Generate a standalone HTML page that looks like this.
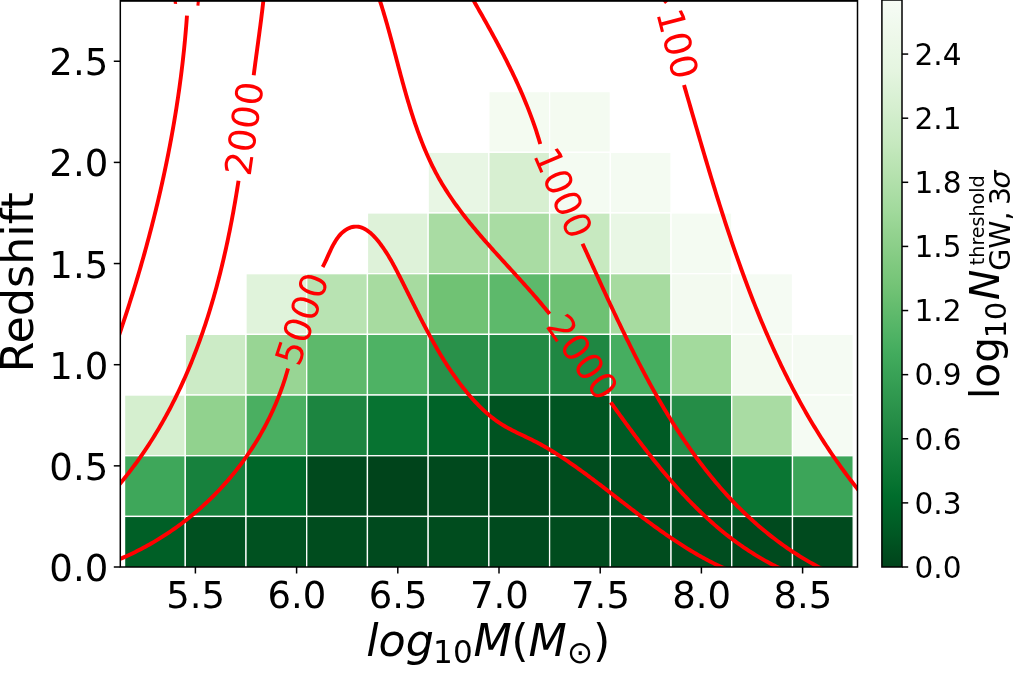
<!DOCTYPE html><html><head><meta charset="utf-8"><style>html,body{margin:0;padding:0;background:#fff;}svg{display:block;}text{font-family:"DejaVu Sans","Liberation Sans",sans-serif;}</style></head><body>
<svg width="1020" height="677" viewBox="0 0 1020 677">
<defs><clipPath id="ax"><rect x="120.3" y="0.0" width="737.2" height="567.0"/></clipPath>
<linearGradient id="cb" x1="0" y1="1" x2="0" y2="0"><stop offset="0.000" stop-color="#00441b"/><stop offset="0.031" stop-color="#004e1f"/><stop offset="0.062" stop-color="#005924"/><stop offset="0.094" stop-color="#006328"/><stop offset="0.125" stop-color="#006d2c"/><stop offset="0.156" stop-color="#097532"/><stop offset="0.188" stop-color="#127c39"/><stop offset="0.219" stop-color="#1a843f"/><stop offset="0.250" stop-color="#238b45"/><stop offset="0.281" stop-color="#2b934b"/><stop offset="0.312" stop-color="#329b51"/><stop offset="0.344" stop-color="#3aa357"/><stop offset="0.375" stop-color="#42ab5d"/><stop offset="0.406" stop-color="#4eb264"/><stop offset="0.438" stop-color="#5bb86a"/><stop offset="0.469" stop-color="#68be70"/><stop offset="0.500" stop-color="#75c477"/><stop offset="0.531" stop-color="#7fc97f"/><stop offset="0.562" stop-color="#8ace88"/><stop offset="0.594" stop-color="#95d391"/><stop offset="0.625" stop-color="#a0d99b"/><stop offset="0.656" stop-color="#aadda4"/><stop offset="0.688" stop-color="#b4e1ad"/><stop offset="0.719" stop-color="#bde5b6"/><stop offset="0.750" stop-color="#c7e9c0"/><stop offset="0.781" stop-color="#ceecc8"/><stop offset="0.812" stop-color="#d6efd0"/><stop offset="0.844" stop-color="#ddf2d8"/><stop offset="0.875" stop-color="#e5f5e0"/><stop offset="0.906" stop-color="#e9f7e5"/><stop offset="0.938" stop-color="#eef8ea"/><stop offset="0.969" stop-color="#f2faf0"/><stop offset="1.000" stop-color="#f7fcf5"/></linearGradient></defs>
<rect width="1020" height="677" fill="#fff"/>
<g clip-path="url(#ax)" stroke="#fff" stroke-width="1.3">
<rect x="488.88" y="91.59" width="60.72" height="60.69" fill="#f4fbf1"/>
<rect x="549.60" y="91.59" width="60.72" height="60.69" fill="#f4fbf1"/>
<rect x="428.16" y="152.29" width="60.72" height="60.69" fill="#e8f6e4"/>
<rect x="488.88" y="152.29" width="60.72" height="60.69" fill="#d7efd1"/>
<rect x="549.60" y="152.29" width="60.72" height="60.69" fill="#f4fbf2"/>
<rect x="610.32" y="152.29" width="60.72" height="60.69" fill="#f4fbf2"/>
<rect x="367.44" y="212.97" width="60.72" height="60.69" fill="#def2d9"/>
<rect x="428.16" y="212.97" width="60.72" height="60.69" fill="#a9dca3"/>
<rect x="488.88" y="212.97" width="60.72" height="60.69" fill="#a9dca3"/>
<rect x="549.60" y="212.97" width="60.72" height="60.69" fill="#c7e9c0"/>
<rect x="610.32" y="212.97" width="60.72" height="60.69" fill="#e9f7e5"/>
<rect x="671.04" y="212.97" width="60.72" height="60.69" fill="#f4fbf2"/>
<rect x="246.00" y="273.67" width="60.72" height="60.69" fill="#e0f3db"/>
<rect x="306.72" y="273.67" width="60.72" height="60.69" fill="#b8e3b2"/>
<rect x="367.44" y="273.67" width="60.72" height="60.69" fill="#a7dba0"/>
<rect x="428.16" y="273.67" width="60.72" height="60.69" fill="#70c274"/>
<rect x="488.88" y="273.67" width="60.72" height="60.69" fill="#5db96b"/>
<rect x="549.60" y="273.67" width="60.72" height="60.69" fill="#6ec173"/>
<rect x="610.32" y="273.67" width="60.72" height="60.69" fill="#a7dba0"/>
<rect x="671.04" y="273.67" width="60.72" height="60.69" fill="#f3faf0"/>
<rect x="731.76" y="273.67" width="60.72" height="60.69" fill="#f5fbf3"/>
<rect x="185.28" y="334.36" width="60.72" height="60.69" fill="#ccebc6"/>
<rect x="246.00" y="334.36" width="60.72" height="60.69" fill="#98d594"/>
<rect x="306.72" y="334.36" width="60.72" height="60.69" fill="#5db96b"/>
<rect x="367.44" y="334.36" width="60.72" height="60.69" fill="#4eb264"/>
<rect x="428.16" y="334.36" width="60.72" height="60.69" fill="#29914a"/>
<rect x="488.88" y="334.36" width="60.72" height="60.69" fill="#228a44"/>
<rect x="549.60" y="334.36" width="60.72" height="60.69" fill="#1f8742"/>
<rect x="610.32" y="334.36" width="60.72" height="60.69" fill="#46ae60"/>
<rect x="671.04" y="334.36" width="60.72" height="60.69" fill="#a3da9d"/>
<rect x="731.76" y="334.36" width="60.72" height="60.69" fill="#f3faf0"/>
<rect x="792.48" y="334.36" width="60.72" height="60.69" fill="#f5fbf3"/>
<rect x="124.56" y="395.04" width="60.72" height="60.69" fill="#d5efcf"/>
<rect x="185.28" y="395.04" width="60.72" height="60.69" fill="#91d28e"/>
<rect x="246.00" y="395.04" width="60.72" height="60.69" fill="#4aaf61"/>
<rect x="306.72" y="395.04" width="60.72" height="60.69" fill="#1c8540"/>
<rect x="367.44" y="395.04" width="60.72" height="60.69" fill="#077331"/>
<rect x="428.16" y="395.04" width="60.72" height="60.69" fill="#006328"/>
<rect x="488.88" y="395.04" width="60.72" height="60.69" fill="#005321"/>
<rect x="549.60" y="395.04" width="60.72" height="60.69" fill="#005522"/>
<rect x="610.32" y="395.04" width="60.72" height="60.69" fill="#005b25"/>
<rect x="671.04" y="395.04" width="60.72" height="60.69" fill="#258d47"/>
<rect x="731.76" y="395.04" width="60.72" height="60.69" fill="#a9dca3"/>
<rect x="792.48" y="395.04" width="60.72" height="60.69" fill="#f5fbf3"/>
<rect x="124.56" y="455.74" width="60.72" height="60.69" fill="#3ea75a"/>
<rect x="185.28" y="455.74" width="60.72" height="60.69" fill="#17813d"/>
<rect x="246.00" y="455.74" width="60.72" height="60.69" fill="#006729"/>
<rect x="306.72" y="455.74" width="60.72" height="60.69" fill="#00491d"/>
<rect x="367.44" y="455.74" width="60.72" height="60.69" fill="#00441b"/>
<rect x="428.16" y="455.74" width="60.72" height="60.69" fill="#00491d"/>
<rect x="488.88" y="455.74" width="60.72" height="60.69" fill="#00471c"/>
<rect x="549.60" y="455.74" width="60.72" height="60.69" fill="#004c1e"/>
<rect x="610.32" y="455.74" width="60.72" height="60.69" fill="#005020"/>
<rect x="671.04" y="455.74" width="60.72" height="60.69" fill="#005020"/>
<rect x="731.76" y="455.74" width="60.72" height="60.69" fill="#0a7633"/>
<rect x="792.48" y="455.74" width="60.72" height="60.69" fill="#3ca559"/>
<rect x="124.56" y="516.42" width="60.72" height="60.69" fill="#005f26"/>
<rect x="185.28" y="516.42" width="60.72" height="60.69" fill="#005020"/>
<rect x="246.00" y="516.42" width="60.72" height="60.69" fill="#005120"/>
<rect x="306.72" y="516.42" width="60.72" height="60.69" fill="#004c1e"/>
<rect x="367.44" y="516.42" width="60.72" height="60.69" fill="#004a1e"/>
<rect x="428.16" y="516.42" width="60.72" height="60.69" fill="#004c1e"/>
<rect x="488.88" y="516.42" width="60.72" height="60.69" fill="#004a1e"/>
<rect x="549.60" y="516.42" width="60.72" height="60.69" fill="#004c1e"/>
<rect x="610.32" y="516.42" width="60.72" height="60.69" fill="#004c1e"/>
<rect x="671.04" y="516.42" width="60.72" height="60.69" fill="#004d1f"/>
<rect x="731.76" y="516.42" width="60.72" height="60.69" fill="#004a1e"/>
<rect x="792.48" y="516.42" width="60.72" height="60.69" fill="#004a1e"/>
</g>
<g clip-path="url(#ax)" fill="none" stroke="#ff0000" stroke-width="3.9" stroke-linecap="butt">
<path d="M109.71,361.91 L110.88,358.66 L112.04,355.41 L113.19,352.15 L114.33,348.89 L115.47,345.63 L116.60,342.36 L117.73,339.10 L118.84,335.83 L119.96,332.56 L121.06,329.28 L122.16,326.00 L123.25,322.73 L124.33,319.45 L125.41,316.16 L126.48,312.88 L127.54,309.59 L128.59,306.30 L129.64,303.01 L130.68,299.71 L131.72,296.41 L132.74,293.11 L133.76,289.81 L134.77,286.51 L135.78,283.20 L136.77,279.89 L137.76,276.58 L138.74,273.27 L139.71,269.96 L140.68,266.64 L141.63,263.32 L142.58,260.00 L143.52,256.67 L144.46,253.35 L145.38,250.02 L146.30,246.69 L147.21,243.36 L148.11,240.02 L149.00,236.69 L149.89,233.35 L150.76,230.01 L151.63,226.66 L152.49,223.32 L153.34,219.97 L154.18,216.62 L155.02,213.27 L155.84,209.92 L156.66,206.56 L157.47,203.21 L158.26,199.85 L159.05,196.49 L159.84,193.12 L160.61,189.76 L161.37,186.39 L162.12,183.02 L162.87,179.65 L163.61,176.28 L164.33,172.90 L165.05,169.53 L165.76,166.15 L166.46,162.77 L167.15,159.39 L167.83,156.00 L168.50,152.61 L169.16,149.23 L169.81,145.84 L170.45,142.44 L171.08,139.05 L171.71,135.66 L172.32,132.26 L172.92,128.86 L173.51,125.46 L174.10,122.05 L174.67,118.65 L175.23,115.24 L175.79,111.84 L176.33,108.43 L176.86,105.01 L177.38,101.60 L177.90,98.19 L178.40,94.77 L178.89,91.35 L179.37,87.93 L179.84,84.51 L180.30,81.08 L180.75,77.66 L181.19,74.23 L181.62,70.80 L182.03,67.37 L182.44,63.94 L182.84,60.51 L183.22,57.07 L183.59,53.63 L183.96,50.20 L184.31,46.76 L184.65,43.31 L184.98,39.87 L185.30,36.43 L185.60,32.98 L185.90,29.53 L186.19,26.08 L186.46,22.63 L186.72,19.18 L186.97,15.72"/>
<path d="M108.90,496.38 L110.76,494.33 L112.60,492.27 L114.42,490.19 L116.23,488.11 L118.02,486.01 L119.80,483.91 L121.55,481.79 L123.30,479.67 L125.02,477.53 L126.73,475.39 L128.42,473.23 L130.10,471.07 L131.76,468.89 L133.40,466.70 L135.03,464.51 L136.65,462.31 L138.24,460.09 L139.83,457.87 L141.39,455.64 L142.94,453.40 L144.48,451.15 L146.00,448.89 L147.50,446.62 L148.99,444.34 L150.47,442.06 L151.93,439.76 L153.37,437.46 L154.80,435.15 L156.22,432.83 L157.62,430.50 L159.01,428.17 L160.38,425.82 L161.74,423.47 L163.08,421.11 L164.41,418.75 L165.73,416.37 L167.03,413.99 L168.32,411.60 L169.60,409.21 L170.86,406.80 L172.11,404.39 L173.34,401.97 L174.56,399.55 L175.77,397.12 L176.96,394.68 L178.14,392.23 L179.31,389.78 L180.47,387.32 L181.61,384.86 L182.74,382.39 L183.86,379.91 L184.96,377.42 L186.05,374.94 L187.13,372.44 L188.20,369.94 L189.26,367.43 L190.30,364.92 L191.33,362.40 L192.35,359.88 L193.36,357.35 L194.35,354.82 L195.34,352.28 L196.31,349.73 L197.27,347.18 L198.22,344.63 L199.16,342.07 L200.08,339.51 L201.00,336.94 L201.90,334.37 L202.80,331.79 L203.68,329.21 L204.55,326.62 L205.41,324.03 L206.27,321.44 L207.11,318.84 L207.94,316.24 L208.76,313.63 L209.57,311.02 L210.36,308.41 L211.15,305.80 L211.93,303.18 L212.70,300.55 L213.46,297.93 L214.21,295.30 L214.95,292.67 L215.68,290.03 L216.40,287.39 L217.11,284.75 L217.82,282.11 L218.51,279.47 L219.20,276.82 L219.87,274.17 L220.54,271.52 L221.19,268.86 L221.84,266.20 L222.48,263.55 L223.12,260.88 L223.74,258.22 L224.35,255.56 L224.96,252.89 L225.56,250.23 L226.15,247.56 L226.73,244.89 L227.31,242.22 L227.87,239.55 L228.43,236.87 L228.98,234.20 L229.53,231.52 L230.06,228.85 L230.59,226.17 L231.11,223.50 L231.63,220.82 L232.13,218.14 L232.63,215.46 L233.13,212.79 L233.61,210.11 L234.09,207.43 L234.56,204.75 L235.03,202.08 L235.49,199.40 L235.94,196.72 L236.39,194.04 L236.83,191.37 L237.27,188.69 L237.69,186.02 L238.12,183.35 L238.53,180.67"/>
<path d="M253.70,75.20 L253.98,73.02 L254.26,70.83 L254.55,68.65 L254.84,66.47 L255.13,64.28 L255.42,62.10 L255.71,59.92 L256.01,57.74 L256.30,55.55 L256.60,53.37 L256.89,51.19 L257.19,49.01 L257.49,46.82 L257.78,44.64 L258.08,42.46 L258.37,40.28 L258.67,38.09 L258.96,35.91 L259.25,33.73 L259.54,31.55 L259.83,29.36 L260.12,27.18 L260.41,24.99 L260.69,22.81 L260.97,20.63 L261.25,18.44 L261.52,16.26 L261.79,14.07 L262.06,11.89 L262.32,9.70 L262.58,7.51 L262.84,5.33 L263.09,3.14 L263.34,0.95 L263.58,-1.24 L263.82,-3.43 L264.05,-5.62 L264.28,-7.81 L264.50,-10.00"/>
<path d="M104.44,565.10 L106.68,564.28 L108.90,563.45 L111.12,562.60 L113.33,561.73 L115.54,560.85 L117.73,559.95 L119.91,559.03 L122.09,558.10 L124.26,557.14 L126.42,556.17 L128.56,555.19 L130.71,554.19 L132.84,553.17 L134.96,552.13 L137.07,551.08 L139.17,550.01 L141.27,548.93 L143.35,547.82 L145.42,546.71 L147.49,545.57 L149.54,544.43 L151.58,543.26 L153.62,542.08 L155.64,540.88 L157.65,539.67 L159.66,538.44 L161.65,537.20 L163.63,535.94 L165.60,534.67 L167.56,533.38 L169.51,532.08 L171.45,530.76 L173.38,529.43 L175.30,528.08 L177.20,526.71 L179.10,525.34 L180.98,523.94 L182.85,522.54 L184.71,521.12 L186.56,519.68 L188.39,518.23 L190.22,516.77 L192.03,515.29 L193.83,513.80 L195.62,512.29 L197.40,510.77 L199.16,509.24 L200.91,507.69 L202.65,506.13 L204.38,504.56 L206.09,502.97 L207.79,501.37 L209.48,499.76 L211.16,498.13 L212.82,496.49 L214.47,494.84 L216.11,493.17 L217.73,491.49 L219.34,489.80 L220.93,488.10 L222.52,486.38 L224.09,484.66 L225.64,482.92 L227.18,481.16 L228.71,479.40 L230.22,477.62 L231.72,475.83 L233.21,474.03 L234.68,472.22 L236.14,470.39 L237.58,468.56 L239.01,466.71 L240.42,464.85 L241.82,462.98 L243.20,461.10 L244.57,459.20 L245.92,457.30 L247.26,455.39 L248.59,453.46 L249.89,451.52 L251.19,449.57 L252.46,447.62 L253.73,445.65 L254.97,443.67 L256.20,441.68 L257.42,439.68 L258.62,437.67 L259.80,435.65 L260.97,433.61 L262.12,431.57 L263.25,429.52 L264.37,427.46 L265.47,425.39 L266.56,423.31 L267.62,421.22 L268.68,419.12 L269.71,417.01 L270.73,414.90 L271.73,412.77 L272.71,410.63 L273.68,408.49 L274.63,406.33 L275.56,404.17 L276.48,402.00 L277.38,399.82 L278.25,397.63 L279.12,395.43 L279.96,393.22 L280.79,391.01 L281.60,388.79 L282.39,386.55 L283.16,384.31 L283.91,382.07 L284.65,379.81 L285.37,377.55 L286.06,375.28 L286.74,373.00 L287.41,370.71 L288.05,368.42"/>
<path d="M322.64,266.93 L323.38,265.62 L324.11,264.23 L324.84,262.75 L325.58,261.19 L326.32,259.57 L327.08,257.89 L327.85,256.17 L328.64,254.41 L329.45,252.63 L330.28,250.83 L331.14,249.03 L332.03,247.23 L332.95,245.44 L333.91,243.68 L334.91,241.96 L335.95,240.28 L337.04,238.66 L338.17,237.09 L339.36,235.61 L340.61,234.21 L341.91,232.90 L343.28,231.70 L344.70,230.61 L346.16,229.63 L347.67,228.78 L349.20,228.06 L350.76,227.47 L352.34,227.02 L353.92,226.73 L355.51,226.58 L357.09,226.60 L358.65,226.78 L360.21,227.12 L361.75,227.61 L363.27,228.23 L364.77,228.98 L366.25,229.86 L367.71,230.84 L369.15,231.93 L370.57,233.10 L371.96,234.36 L373.33,235.69 L374.67,237.09 L375.99,238.54 L377.27,240.04 L378.53,241.58 L379.75,243.14 L380.94,244.72 L382.10,246.30 L383.22,247.89 L384.31,249.48 L385.37,251.06 L386.40,252.65 L387.40,254.23 L388.38,255.81 L389.33,257.39 L390.26,258.98 L391.17,260.56 L392.06,262.15 L392.94,263.73 L393.81,265.32 L394.66,266.91 L395.50,268.50 L396.34,270.09 L397.17,271.68 L397.99,273.28 L398.82,274.88 L399.64,276.49 L400.46,278.10 L401.28,279.71 L402.09,281.32 L402.91,282.93 L403.72,284.55 L404.53,286.17 L405.34,287.79 L406.16,289.41 L406.97,291.03 L407.78,292.66 L408.59,294.29 L409.40,295.92 L410.21,297.54 L411.02,299.17 L411.83,300.81 L412.65,302.44 L413.46,304.07 L414.28,305.70 L415.09,307.34 L415.91,308.97 L416.73,310.60 L417.56,312.23 L418.38,313.87 L419.21,315.50 L420.04,317.13 L420.87,318.76 L421.70,320.39 L422.54,322.02 L423.38,323.65 L424.23,325.27 L425.08,326.90 L425.93,328.52 L426.78,330.14 L427.64,331.76 L428.51,333.38 L429.38,334.99 L430.25,336.61 L431.13,338.22 L432.01,339.82 L432.90,341.43 L433.80,343.03 L434.70,344.63 L435.60,346.23 L436.51,347.82 L437.43,349.41 L438.36,351.00 L439.29,352.58 L440.23,354.16 L441.17,355.73 L442.12,357.30 L443.08,358.86 L444.05,360.43 L445.02,361.98 L446.00,363.53 L446.99,365.08 L447.99,366.62 L448.99,368.15 L450.01,369.68 L451.03,371.20 L452.06,372.72 L453.10,374.23 L454.15,375.73 L455.21,377.22 L456.28,378.71 L457.36,380.19 L458.44,381.66 L459.54,383.13 L460.65,384.58 L461.76,386.03 L462.89,387.47 L464.03,388.90 L465.18,390.32 L466.34,391.73 L467.51,393.13 L468.69,394.52 L469.88,395.91 L471.09,397.28 L472.30,398.64 L473.53,399.99 L474.77,401.33 L476.02,402.66 L477.29,403.97 L478.56,405.28 L479.85,406.57 L481.16,407.85 L482.47,409.12 L483.80,410.38 L485.15,411.61 L486.50,412.83 L487.88,414.04 L489.26,415.22 L490.67,416.39 L492.09,417.53 L493.52,418.65 L494.98,419.75 L496.45,420.82 L497.94,421.86 L499.44,422.88 L500.97,423.87 L502.51,424.84 L504.07,425.78 L505.65,426.70 L507.23,427.59 L508.83,428.47 L510.45,429.33 L512.07,430.18 L513.70,431.01 L515.34,431.83 L516.99,432.64 L518.64,433.45 L520.30,434.25 L521.96,435.04 L523.62,435.83 L525.28,436.62 L526.94,437.42 L528.60,438.22 L530.26,439.02 L531.91,439.83 L533.56,440.65 L535.20,441.48 L536.83,442.33 L538.45,443.19 L540.07,444.06 L541.68,444.95 L543.28,445.85 L544.87,446.76 L546.45,447.68 L548.03,448.61 L549.60,449.55 L551.17,450.51 L552.73,451.47 L554.28,452.44 L555.83,453.42 L557.37,454.40 L558.91,455.40 L560.44,456.40 L561.97,457.40 L563.50,458.41 L565.02,459.43 L566.53,460.45 L568.04,461.48 L569.55,462.52 L571.06,463.55 L572.56,464.60 L574.06,465.65 L575.55,466.70 L577.04,467.76 L578.53,468.82 L580.01,469.89 L581.49,470.96 L582.97,472.03 L584.45,473.11 L585.92,474.19 L587.39,475.27 L588.86,476.36 L590.33,477.45 L591.79,478.55 L593.26,479.65 L594.72,480.75 L596.18,481.85 L597.63,482.95 L599.09,484.06 L600.54,485.17 L602.00,486.28 L603.45,487.39 L604.90,488.51 L606.35,489.62 L607.80,490.74 L609.25,491.86 L610.70,492.98 L612.15,494.10 L613.60,495.22 L615.04,496.34 L616.49,497.47 L617.94,498.59 L619.39,499.71 L620.84,500.84 L622.29,501.96 L623.74,503.08 L625.19,504.20 L626.64,505.32 L628.09,506.44 L629.54,507.56 L631.00,508.68 L632.45,509.80 L633.91,510.91 L635.37,512.03 L636.82,513.14 L638.28,514.25 L639.74,515.36 L641.21,516.47 L642.67,517.57 L644.14,518.67 L645.61,519.77 L647.08,520.87 L648.55,521.96 L650.02,523.05 L651.50,524.14 L652.98,525.22 L654.46,526.30 L655.94,527.38 L657.43,528.45 L658.91,529.52 L660.40,530.58 L661.90,531.64 L663.40,532.69 L664.89,533.74 L666.40,534.79 L667.90,535.83 L669.41,536.86 L670.92,537.89 L672.44,538.92 L673.96,539.94 L675.48,540.95 L677.01,541.96 L678.54,542.96 L680.07,543.95 L681.61,544.94 L683.15,545.92 L684.69,546.90 L686.24,547.87 L687.80,548.83 L689.35,549.78 L690.92,550.73 L692.48,551.67 L694.05,552.60 L695.63,553.52 L697.21,554.44 L698.80,555.35 L700.39,556.25 L701.98,557.14 L703.58,558.02 L705.19,558.89 L706.80,559.76 L708.41,560.61 L710.04,561.46 L711.66,562.30 L713.30,563.12 L714.93,563.94 L716.58,564.75 L718.23,565.55 L719.88,566.34 L721.55,567.11 L723.21,567.88 L724.89,568.64 L726.57,569.38 L728.26,570.12 L729.95,570.84 L731.65,571.56 L733.36,572.26 L735.07,572.95"/>
<path d="M377.19,-7.53 L377.96,-5.27 L378.72,-3.01 L379.47,-0.73 L380.21,1.56 L380.94,3.85 L381.67,6.16 L382.38,8.47 L383.09,10.78 L383.79,13.11 L384.48,15.44 L385.17,17.78 L385.85,20.13 L386.53,22.48 L387.20,24.83 L387.86,27.20 L388.52,29.56 L389.18,31.94 L389.83,34.31 L390.48,36.70 L391.12,39.08 L391.77,41.47 L392.41,43.86 L393.05,46.26 L393.68,48.66 L394.32,51.06 L394.96,53.47 L395.59,55.87 L396.23,58.28 L396.87,60.69 L397.50,63.11 L398.14,65.52 L398.78,67.93 L399.43,70.35 L400.07,72.76 L400.72,75.17 L401.37,77.59 L402.03,80.00 L402.69,82.41 L403.35,84.82 L404.02,87.23 L404.69,89.64 L405.37,92.05 L406.06,94.45 L406.75,96.85 L407.45,99.25 L408.16,101.64 L408.88,104.04 L409.60,106.42 L410.33,108.81 L411.07,111.19 L411.82,113.56 L412.58,115.93 L413.35,118.30 L414.13,120.66 L414.92,123.01 L415.73,125.36 L416.54,127.70 L417.37,130.04 L418.21,132.36 L419.06,134.69 L419.92,137.00 L420.80,139.31 L421.70,141.60 L422.60,143.89 L423.53,146.18 L424.46,148.45 L425.42,150.71 L426.39,152.97 L427.37,155.21 L428.38,157.45 L429.40,159.67 L430.43,161.89 L431.49,164.09 L432.56,166.29 L433.66,168.47 L434.77,170.64 L435.90,172.80 L437.06,174.94 L438.23,177.08 L439.42,179.20 L440.64,181.31 L441.87,183.40 L443.12,185.49 L444.40,187.56 L445.69,189.62 L447.00,191.67 L448.33,193.71 L449.67,195.74 L451.03,197.76 L452.41,199.77 L453.81,201.77 L455.22,203.76 L456.64,205.74 L458.08,207.71 L459.54,209.67 L461.01,211.62 L462.49,213.57 L463.98,215.51 L465.49,217.44 L467.01,219.36 L468.54,221.27 L470.08,223.18 L471.63,225.09 L473.19,226.98 L474.76,228.87 L476.34,230.76 L477.93,232.63 L479.53,234.51 L481.13,236.38 L482.75,238.24 L484.37,240.10 L485.99,241.96 L487.63,243.81 L489.26,245.65 L490.91,247.50 L492.56,249.34 L494.21,251.18 L495.86,253.02 L497.52,254.85 L499.18,256.68 L500.85,258.51 L502.52,260.34 L504.18,262.17 L505.85,263.99 L507.52,265.82 L509.19,267.65 L510.86,269.47 L512.53,271.30 L514.20,273.12 L515.87,274.95 L517.53,276.78 L519.19,278.61 L520.85,280.44 L522.51,282.27 L524.16,284.10 L525.80,285.94 L527.45,287.78 L529.08,289.62 L530.71,291.47 L532.34,293.32 L533.96,295.17 L535.57,297.03 L537.17,298.89 L538.77,300.75 L540.36,302.62 L541.93,304.50 L543.50,306.38 L545.06,308.26 L546.61,310.15 L548.15,312.05 L549.68,313.95"/>
<path d="M610.69,402.27 L611.83,403.86 L612.98,405.46 L614.12,407.06 L615.27,408.66 L616.42,410.26 L617.57,411.86 L618.73,413.46 L619.88,415.06 L621.04,416.66 L622.20,418.26 L623.36,419.86 L624.52,421.46 L625.69,423.05 L626.86,424.65 L628.03,426.25 L629.20,427.84 L630.38,429.44 L631.56,431.03 L632.74,432.63 L633.92,434.22 L635.11,435.81 L636.30,437.40 L637.49,438.98 L638.69,440.57 L639.89,442.15 L641.09,443.74 L642.29,445.31 L643.50,446.89 L644.71,448.47 L645.93,450.04 L647.15,451.61 L648.37,453.18 L649.60,454.74 L650.83,456.30 L652.06,457.86 L653.30,459.42 L654.54,460.97 L655.79,462.52 L657.04,464.06 L658.29,465.60 L659.55,467.14 L660.81,468.68 L662.07,470.21 L663.35,471.73 L664.62,473.26 L665.90,474.77 L667.18,476.29 L668.47,477.80 L669.77,479.30 L671.07,480.80 L672.37,482.30 L673.68,483.79 L674.99,485.27 L676.31,486.75 L677.63,488.22 L678.96,489.69 L680.30,491.16 L681.63,492.62 L682.98,494.07 L684.33,495.51 L685.68,496.95 L687.05,498.39 L688.41,499.82 L689.79,501.24 L691.16,502.65 L692.55,504.06 L693.94,505.47 L695.33,506.86 L696.74,508.25 L698.15,509.63 L699.56,511.01 L700.98,512.37 L702.41,513.73 L703.84,515.09 L705.28,516.43 L706.73,517.77 L708.18,519.10 L709.64,520.42 L711.11,521.74 L712.58,523.04 L714.06,524.34 L715.55,525.63 L717.05,526.91 L718.55,528.18 L720.06,529.44 L721.57,530.70 L723.10,531.95 L724.63,533.18 L726.16,534.41 L727.71,535.63 L729.26,536.84 L730.82,538.04 L732.39,539.23 L733.97,540.41 L735.55,541.58 L737.14,542.74 L738.74,543.89 L740.35,545.03 L741.97,546.16 L743.59,547.28 L745.22,548.39 L746.87,549.49 L748.51,550.57 L750.17,551.65 L751.84,552.72 L753.51,553.77 L755.20,554.82 L756.89,555.85 L758.59,556.87 L760.30,557.88 L762.02,558.88 L763.74,559.86 L765.48,560.84 L767.23,561.80 L768.98,562.75 L770.74,563.69 L772.52,564.61 L774.30,565.53 L776.09,566.43 L777.89,567.32 L779.71,568.19 L781.53,569.05 L783.36,569.90 L785.20,570.74 L787.05,571.56 L788.91,572.37 L790.78,573.17"/>
<path d="M468.71,-7.83 L470.04,-5.53 L471.37,-3.22 L472.70,-0.91 L474.03,1.40 L475.36,3.72 L476.68,6.03 L478.01,8.35 L479.33,10.67 L480.65,12.99 L481.97,15.31 L483.28,17.63 L484.59,19.96 L485.90,22.29 L487.20,24.62 L488.50,26.96 L489.80,29.30 L491.09,31.64 L492.37,33.98 L493.65,36.33 L494.93,38.68 L496.20,41.03 L497.46,43.39 L498.72,45.75 L499.97,48.11 L501.21,50.48 L502.44,52.85 L503.67,55.22 L504.89,57.60 L506.10,59.98 L507.31,62.37 L508.50,64.76 L509.68,67.16 L510.86,69.55 L512.03,71.96 L513.18,74.37 L514.33,76.78 L515.46,79.20 L516.59,81.62 L517.70,84.05 L518.80,86.48 L519.89,88.92 L520.97,91.36 L522.03,93.81 L523.09,96.26 L524.12,98.72 L525.15,101.18 L526.16,103.65 L527.16,106.13 L528.15,108.61 L529.12,111.10 L530.07,113.59 L531.01,116.09 L531.94,118.60 L532.85,121.11 L533.74,123.63 L534.62,126.15 L535.48,128.69 L536.32,131.23 L537.15,133.77 L537.95,136.32 L538.75,138.88 L539.52,141.45 L540.27,144.02"/>
<path d="M582.54,243.74 L583.52,245.87 L584.49,248.01 L585.47,250.14 L586.45,252.29 L587.43,254.43 L588.41,256.58 L589.39,258.73 L590.37,260.88 L591.35,263.04 L592.34,265.20 L593.32,267.37 L594.31,269.53 L595.30,271.70 L596.29,273.87 L597.28,276.04 L598.27,278.22 L599.27,280.40 L600.26,282.57 L601.26,284.76 L602.26,286.94 L603.27,289.12 L604.27,291.31 L605.28,293.50 L606.29,295.68 L607.30,297.87 L608.32,300.06 L609.33,302.26 L610.35,304.45 L611.37,306.64 L612.40,308.83 L613.43,311.03 L614.46,313.22 L615.49,315.42 L616.53,317.61 L617.57,319.81 L618.61,322.00 L619.66,324.20 L620.71,326.39 L621.77,328.58 L622.82,330.78 L623.89,332.97 L624.95,335.16 L626.02,337.35 L627.09,339.54 L628.17,341.73 L629.25,343.92 L630.34,346.10 L631.43,348.29 L632.52,350.47 L633.62,352.65 L634.72,354.83 L635.83,357.01 L636.94,359.18 L638.06,361.36 L639.18,363.53 L640.31,365.69 L641.44,367.86 L642.58,370.02 L643.72,372.18 L644.86,374.34 L646.02,376.50 L647.17,378.65 L648.34,380.80 L649.51,382.94 L650.68,385.09 L651.86,387.22 L653.05,389.36 L654.24,391.49 L655.44,393.62 L656.64,395.74 L657.85,397.86 L659.07,399.98 L660.29,402.09 L661.52,404.19 L662.76,406.29 L664.00,408.39 L665.25,410.48 L666.50,412.57 L667.76,414.65 L669.03,416.73 L670.31,418.80 L671.59,420.87 L672.88,422.93 L674.18,424.99 L675.48,427.04 L676.79,429.08 L678.11,431.12 L679.44,433.15 L680.77,435.18 L682.12,437.20 L683.47,439.21 L684.82,441.22 L686.19,443.22 L687.56,445.21 L688.94,447.20 L690.33,449.18 L691.73,451.15 L693.14,453.12 L694.55,455.08 L695.98,457.03 L697.41,458.97 L698.85,460.91 L700.30,462.84 L701.75,464.76 L703.22,466.67 L704.70,468.58 L706.18,470.47 L707.67,472.36 L709.18,474.24 L710.69,476.11 L712.21,477.98 L713.74,479.83 L715.28,481.67 L716.83,483.51 L718.39,485.34 L719.96,487.16 L721.54,488.96 L723.13,490.76 L724.73,492.55 L726.34,494.33 L727.96,496.10 L729.59,497.86 L731.23,499.61 L732.88,501.35 L734.54,503.08 L736.21,504.80 L737.89,506.51 L739.59,508.21 L741.29,509.90 L743.01,511.58 L744.73,513.24 L746.47,514.90 L748.22,516.54 L749.98,518.17 L751.75,519.80 L753.53,521.41 L755.32,523.00 L757.13,524.59 L758.94,526.17 L760.77,527.73 L762.61,529.28 L764.46,530.82 L766.33,532.35 L768.20,533.86 L770.09,535.36 L771.99,536.85 L773.90,538.33 L775.83,539.79 L777.76,541.24 L779.71,542.68 L781.68,544.10 L783.65,545.51 L785.64,546.91 L787.64,548.30 L789.65,549.67 L791.68,551.02 L793.72,552.37 L795.77,553.69 L797.84,555.01 L799.92,556.31 L802.01,557.60 L804.12,558.87 L806.24,560.13 L808.37,561.37 L810.52,562.60 L812.68,563.81 L814.85,565.01 L817.04,566.19 L819.24,567.36 L821.46,568.51 L823.69,569.65 L825.94,570.77 L828.20,571.88 L830.47,572.97 L832.76,574.04"/>
<path d="M662.0,-3.0 L666.6,2.7"/>
<path d="M684.04,85.07 L684.92,88.10 L685.81,91.14 L686.69,94.18 L687.57,97.22 L688.45,100.26 L689.34,103.31 L690.22,106.36 L691.10,109.40 L691.99,112.45 L692.87,115.51 L693.76,118.56 L694.65,121.61 L695.54,124.67 L696.43,127.72 L697.32,130.78 L698.21,133.84 L699.11,136.90 L700.00,139.96 L700.90,143.02 L701.80,146.08 L702.70,149.14 L703.61,152.20 L704.51,155.26 L705.42,158.32 L706.34,161.39 L707.25,164.45 L708.17,167.51 L709.09,170.57 L710.01,173.63 L710.94,176.70 L711.87,179.76 L712.81,182.82 L713.74,185.88 L714.68,188.94 L715.63,192.00 L716.58,195.05 L717.53,198.11 L718.49,201.17 L719.45,204.22 L720.42,207.28 L721.39,210.33 L722.36,213.38 L723.34,216.43 L724.33,219.48 L725.32,222.53 L726.31,225.57 L727.31,228.62 L728.32,231.66 L729.33,234.70 L730.35,237.73 L731.37,240.77 L732.40,243.80 L733.44,246.84 L734.48,249.86 L735.52,252.89 L736.58,255.92 L737.64,258.94 L738.71,261.96 L739.78,264.97 L740.86,267.99 L741.95,271.00 L743.04,274.00 L744.14,277.01 L745.25,280.01 L746.37,283.01 L747.49,286.00 L748.63,288.99 L749.76,291.98 L750.91,294.97 L752.07,297.95 L753.23,300.92 L754.40,303.90 L755.59,306.86 L756.78,309.83 L757.97,312.79 L759.18,315.75 L760.40,318.70 L761.62,321.65 L762.85,324.59 L764.10,327.53 L765.35,330.46 L766.61,333.39 L767.89,336.32 L769.17,339.24 L770.46,342.15 L771.76,345.06 L773.07,347.97 L774.39,350.87 L775.73,353.76 L777.07,356.65 L778.42,359.54 L779.79,362.41 L781.16,365.29 L782.55,368.15 L783.95,371.01 L785.35,373.87 L786.77,376.72 L788.21,379.56 L789.65,382.40 L791.10,385.23 L792.57,388.05 L794.05,390.87 L795.54,393.68 L797.04,396.49 L798.56,399.29 L800.08,402.08 L801.62,404.86 L803.18,407.64 L804.74,410.41 L806.32,413.17 L807.91,415.93 L809.52,418.68 L811.14,421.42 L812.77,424.16 L814.41,426.88 L816.07,429.60 L817.74,432.32 L819.43,435.02 L821.13,437.72 L822.85,440.41 L824.57,443.09 L826.32,445.76 L828.08,448.42 L829.85,451.08 L831.63,453.73 L833.44,456.37 L835.25,459.00 L837.09,461.62 L838.93,464.23 L840.80,466.84 L842.67,469.43 L844.57,472.02 L846.48,474.60 L848.40,477.17 L850.34,479.73 L852.30,482.28 L854.27,484.82 L856.26,487.35 L858.27,489.87 L860.29,492.38 L862.33,494.89 L864.39,497.38 L866.46,499.86"/>
</g>
<text transform="translate(190.0,-37.8) rotate(-84.5)" x="0" y="13.49" text-anchor="middle" font-size="37.0" fill="#ff0000">1000</text>
<text transform="translate(243.7,128.5) rotate(-81.9)" x="0" y="13.49" text-anchor="middle" font-size="37.0" fill="#ff0000">2000</text>
<text transform="translate(301.4,318.7) rotate(-71.5)" x="0" y="13.49" text-anchor="middle" font-size="37.0" fill="#ff0000">5000</text>
<text transform="translate(582.8,356.8) rotate(55.0)" x="0" y="13.49" text-anchor="middle" font-size="37.0" fill="#ff0000">2000</text>
<text transform="translate(563.5,192.5) rotate(66.9)" x="0" y="13.49" text-anchor="middle" font-size="37.0" fill="#ff0000">1000</text>
<text transform="translate(677.9,43.7) rotate(75.6)" x="0" y="13.49" text-anchor="middle" font-size="37.0" fill="#ff0000">100</text>
<rect x="120.30" y="0.20" width="737.20" height="566.80" fill="none" stroke="#000" stroke-width="1.5"/>
<rect x="120" y="0" width="737.6" height="1.8" fill="#000"/>
<line x1="195.40" y1="567.00" x2="195.40" y2="573.50" stroke="#000" stroke-width="1.5"/>
<text x="195.70" y="607.90" text-anchor="middle" font-size="37.0">5.5</text>
<line x1="296.60" y1="567.00" x2="296.60" y2="573.50" stroke="#000" stroke-width="1.5"/>
<text x="296.90" y="607.90" text-anchor="middle" font-size="37.0">6.0</text>
<line x1="397.80" y1="567.00" x2="397.80" y2="573.50" stroke="#000" stroke-width="1.5"/>
<text x="398.10" y="607.90" text-anchor="middle" font-size="37.0">6.5</text>
<line x1="499.00" y1="567.00" x2="499.00" y2="573.50" stroke="#000" stroke-width="1.5"/>
<text x="499.30" y="607.90" text-anchor="middle" font-size="37.0">7.0</text>
<line x1="600.20" y1="567.00" x2="600.20" y2="573.50" stroke="#000" stroke-width="1.5"/>
<text x="600.50" y="607.90" text-anchor="middle" font-size="37.0">7.5</text>
<line x1="701.40" y1="567.00" x2="701.40" y2="573.50" stroke="#000" stroke-width="1.5"/>
<text x="701.70" y="607.90" text-anchor="middle" font-size="37.0">8.0</text>
<line x1="802.60" y1="567.00" x2="802.60" y2="573.50" stroke="#000" stroke-width="1.5"/>
<text x="802.90" y="607.90" text-anchor="middle" font-size="37.0">8.5</text>
<line x1="113.80" y1="567.00" x2="120.30" y2="567.00" stroke="#000" stroke-width="1.5"/>
<text x="108.20" y="581.09" text-anchor="end" font-size="37.0">0.0</text>
<line x1="113.80" y1="465.85" x2="120.30" y2="465.85" stroke="#000" stroke-width="1.5"/>
<text x="108.20" y="479.94" text-anchor="end" font-size="37.0">0.5</text>
<line x1="113.80" y1="364.70" x2="120.30" y2="364.70" stroke="#000" stroke-width="1.5"/>
<text x="108.20" y="378.79" text-anchor="end" font-size="37.0">1.0</text>
<line x1="113.80" y1="263.55" x2="120.30" y2="263.55" stroke="#000" stroke-width="1.5"/>
<text x="108.20" y="277.64" text-anchor="end" font-size="37.0">1.5</text>
<line x1="113.80" y1="162.40" x2="120.30" y2="162.40" stroke="#000" stroke-width="1.5"/>
<text x="108.20" y="176.49" text-anchor="end" font-size="37.0">2.0</text>
<line x1="113.80" y1="61.25" x2="120.30" y2="61.25" stroke="#000" stroke-width="1.5"/>
<text x="108.20" y="75.34" text-anchor="end" font-size="37.0">2.5</text>
<rect x="881.90" y="0.00" width="20.10" height="567.00" fill="url(#cb)" stroke="#000" stroke-width="1.5"/>
<line x1="902.00" y1="567.00" x2="908.20" y2="567.00" stroke="#000" stroke-width="1.5"/>
<text x="914.50" y="577.79" font-size="29.6">0.0</text>
<line x1="902.00" y1="502.88" x2="908.20" y2="502.88" stroke="#000" stroke-width="1.5"/>
<text x="914.50" y="513.67" font-size="29.6">0.3</text>
<line x1="902.00" y1="438.77" x2="908.20" y2="438.77" stroke="#000" stroke-width="1.5"/>
<text x="914.50" y="449.56" font-size="29.6">0.6</text>
<line x1="902.00" y1="374.65" x2="908.20" y2="374.65" stroke="#000" stroke-width="1.5"/>
<text x="914.50" y="385.44" font-size="29.6">0.9</text>
<line x1="902.00" y1="310.54" x2="908.20" y2="310.54" stroke="#000" stroke-width="1.5"/>
<text x="914.50" y="321.32" font-size="29.6">1.2</text>
<line x1="902.00" y1="246.42" x2="908.20" y2="246.42" stroke="#000" stroke-width="1.5"/>
<text x="914.50" y="257.21" font-size="29.6">1.5</text>
<line x1="902.00" y1="182.30" x2="908.20" y2="182.30" stroke="#000" stroke-width="1.5"/>
<text x="914.50" y="193.09" font-size="29.6">1.8</text>
<line x1="902.00" y1="118.19" x2="908.20" y2="118.19" stroke="#000" stroke-width="1.5"/>
<text x="914.50" y="128.98" font-size="29.6">2.1</text>
<line x1="902.00" y1="54.07" x2="908.20" y2="54.07" stroke="#000" stroke-width="1.5"/>
<text x="914.50" y="64.86" font-size="29.6">2.4</text>
<text transform="translate(33.3,282.2) rotate(-90)" text-anchor="middle" font-size="44.4">Redshift</text>
<g font-size="44.4">
<text x="366.2" y="655.9" font-style="italic">log</text>
<text x="433.1" y="662.6" font-size="31.1">10</text>
<text x="473.6" y="655.9" font-style="italic">M</text>
<text x="511.2" y="655.9">(</text>
<text x="528.5" y="655.9" font-style="italic">M</text>
<text x="567" y="662.6" font-size="31.1">&#x2299;</text>
<text x="592.9" y="655.9">)</text>
</g>
<g transform="translate(999,400) rotate(-90)" font-size="40.7">
<text x="1.0" y="0">log</text>
<text x="61.9" y="7" font-size="28.5">10</text>
<text x="99.9" y="0" font-style="italic">N</text>
<text x="134.8" y="-14.8" font-size="19.1">threshold</text>
<text x="129.2" y="10.9" font-size="28.5">GW,<tspan dx="6.4">3</tspan><tspan font-style="italic" dx="-1.5">&#x3c3;</tspan></text>
</g>
</svg></body></html>
